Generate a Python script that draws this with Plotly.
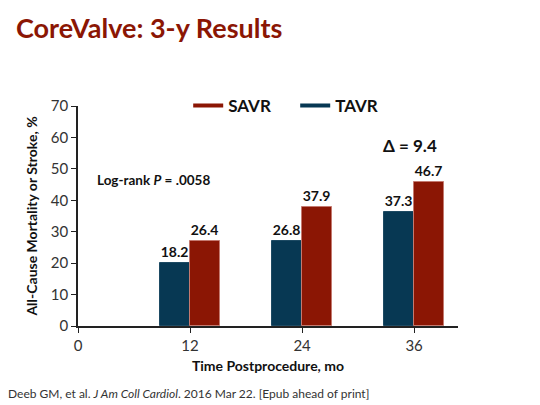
import plotly.graph_objects as go

months = [12, 24, 36]
tavr = [20.0, 27.2, 36.4]
savr = [27.2, 38.0, 45.7]
tavr_labels = ["18.2", "26.8", "37.3"]
savr_labels = ["26.4", "37.9", "46.7"]
x_ticks = [0, 12, 24, 36]
y_ticks = [0, 10, 20, 30, 40, 50, 60, 70]

RED = "#8B1604"
BLUE = "#073853"
FONT = "Lato"

fig = go.Figure()

fig.add_trace(go.Bar(x=months, y=tavr, text=tavr_labels, name="TAVR",
                     width=3.2, offset=-3.2, marker=dict(color=BLUE, line=dict(color="#1d4a63", width=1)),
                     textposition="outside", cliponaxis=False, showlegend=False,
                     textfont=dict(size=14, color="#111", family=FONT, weight="bold")))
fig.add_trace(go.Bar(x=months, y=savr, text=savr_labels, name="SAVR",
                     width=3.2, offset=0, marker=dict(color=RED, line=dict(color="#c47a70", width=1)),
                     textposition="outside", cliponaxis=False, showlegend=False,
                     textfont=dict(size=14, color="#111", family=FONT, weight="bold")))

# legend entries as short lines
fig.add_trace(go.Scatter(x=[None], y=[None], mode="lines", name="SAVR",
                         line=dict(color=RED, width=4)))
fig.add_trace(go.Scatter(x=[None], y=[None], mode="lines", name="TAVR",
                         line=dict(color=BLUE, width=4)))

# page has an 8px body margin, so the figure is a bit smaller than the window
fig.update_layout(
    width=532, height=397,
    margin=dict(l=70, r=82, t=98, b=79, autoexpand=False),
    paper_bgcolor="white", plot_bgcolor="white",
    font=dict(family=FONT, color="#333"),
    bargap=0,
    legend=dict(orientation="h", x=0.29, y=1.0, xanchor="left", yanchor="middle",
                font=dict(size=17, color="#111", family=FONT, weight="bold"),
                entrywidth=62, itemwidth=30, bgcolor="rgba(0,0,0,0)"),
    xaxis=dict(range=[0, 40.7], tickvals=x_ticks, ticks="outside", ticklen=5,
               tickcolor="#222", showline=True, linecolor="#222", linewidth=1.5,
               showgrid=False, zeroline=False, tickfont=dict(size=15, color="#333"),
               title=dict(text="Time Postprocedure, mo", standoff=8,
                          font=dict(size=14, color="#111", weight="bold"))),
    yaxis=dict(range=[0, 70], tickvals=y_ticks, ticks="outside", ticklen=5,
               tickcolor="#222", showline=True, linecolor="#222", linewidth=1.5,
               showgrid=False, zeroline=False, tickfont=dict(size=15, color="#333"),
               title=dict(text="All-Cause Mortality or Stroke, %", standoff=10,
                          font=dict(size=14, color="#111", weight="bold"))),
)

fig.add_annotation(text="CoreValve: 3-y Results", xref="paper", yref="paper",
                   x=-0.168, y=1.355, xanchor="left", yanchor="middle", showarrow=False,
                   font=dict(size=27, color=RED, family=FONT, weight="bold"))
fig.add_annotation(text="Log-rank <i>P</i> = .0058", x=1.8, y=46.5, xanchor="left",
                   showarrow=False, font=dict(size=13.5, color="#111", weight="bold"))
fig.add_annotation(text="Δ = 9.4", x=35.6, y=57.5, showarrow=False,
                   font=dict(size=17, color="#111", weight="bold"))
fig.add_annotation(text="Deeb GM, et al. <i>J Am Coll Cardiol</i>. 2016 Mar 22. [Epub ahead of print]",
                   xref="paper", yref="paper", x=-0.19, y=-0.305, xanchor="left",
                   yanchor="middle", showarrow=False, font=dict(size=12, color="#333"))

fig.write_html("out.html")
